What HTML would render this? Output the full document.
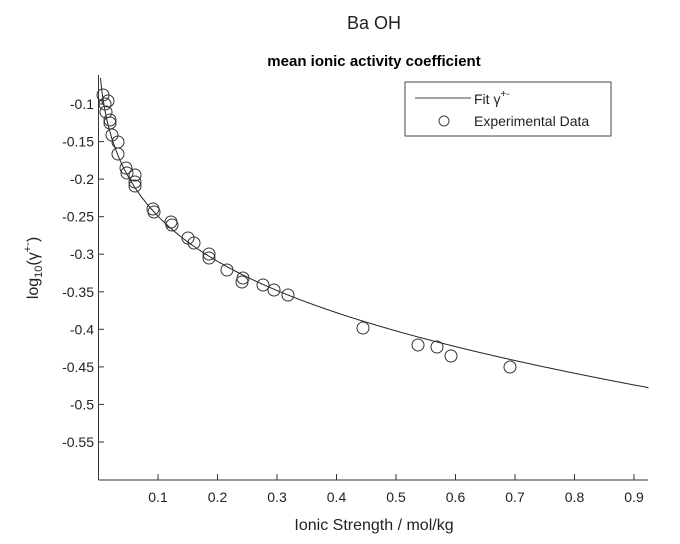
<!DOCTYPE html>
<html><head><style>body{margin:0;background:#fff}svg{display:block}</style></head><body>
<svg width="680" height="544" viewBox="0 0 680 544" xmlns="http://www.w3.org/2000/svg" font-family="Liberation Sans, Arial, sans-serif">
<rect width="680" height="544" fill="#fff"/>
<text x="374" y="29" font-size="18" text-anchor="middle" fill="#222">Ba OH</text>
<text x="374" y="66" font-size="15" font-weight="bold" text-anchor="middle" fill="#000">mean ionic activity coefficient</text>
<g stroke="#333" stroke-width="1" fill="none">
<line x1="98.5" y1="75" x2="98.5" y2="480"/>
<line x1="98.5" y1="480" x2="648" y2="480"/>
</g>
<g stroke="#333">
<line x1="158" y1="480" x2="158" y2="474"/><line x1="217.5" y1="480" x2="217.5" y2="474"/><line x1="277" y1="480" x2="277" y2="474"/><line x1="336.5" y1="480" x2="336.5" y2="474"/><line x1="396" y1="480" x2="396" y2="474"/><line x1="455.5" y1="480" x2="455.5" y2="474"/><line x1="515" y1="480" x2="515" y2="474"/><line x1="574.5" y1="480" x2="574.5" y2="474"/><line x1="634" y1="480" x2="634" y2="474"/>
<line x1="98.5" y1="104" x2="104" y2="104"/><line x1="98.5" y1="141.6" x2="104" y2="141.6"/><line x1="98.5" y1="179.1" x2="104" y2="179.1"/><line x1="98.5" y1="216.7" x2="104" y2="216.7"/><line x1="98.5" y1="254.2" x2="104" y2="254.2"/><line x1="98.5" y1="291.8" x2="104" y2="291.8"/><line x1="98.5" y1="329.3" x2="104" y2="329.3"/><line x1="98.5" y1="366.9" x2="104" y2="366.9"/><line x1="98.5" y1="404.4" x2="104" y2="404.4"/><line x1="98.5" y1="442" x2="104" y2="442"/>
</g>
<g font-size="14" fill="#222" text-anchor="middle">
<text x="158" y="502">0.1</text><text x="217.5" y="502">0.2</text><text x="277" y="502">0.3</text><text x="336.5" y="502">0.4</text><text x="396" y="502">0.5</text><text x="455.5" y="502">0.6</text><text x="515" y="502">0.7</text><text x="574.5" y="502">0.8</text><text x="634" y="502">0.9</text>
</g>
<g font-size="14" fill="#222" text-anchor="end">
<text x="94" y="109">-0.1</text><text x="94" y="146.6">-0.15</text><text x="94" y="184.1">-0.2</text><text x="94" y="221.7">-0.25</text><text x="94" y="259.2">-0.3</text><text x="94" y="296.8">-0.35</text><text x="94" y="334.3">-0.4</text><text x="94" y="371.9">-0.45</text><text x="94" y="409.4">-0.5</text><text x="94" y="447">-0.55</text>
</g>
<text x="374" y="530" font-size="16" text-anchor="middle" fill="#222">Ionic Strength / mol/kg</text>
<text transform="translate(38,268) rotate(-90)" font-size="16" text-anchor="middle" fill="#222">log<tspan font-size="11" dy="4">10</tspan><tspan dy="-4">(γ</tspan><tspan font-size="11" dy="-7">+-</tspan><tspan dy="7">)</tspan></text>
<path id="curve" fill="none" stroke="#222" stroke-width="1"/>
<g fill="none" stroke="#333" stroke-width="1">
<circle cx="103" cy="95" r="6"/><circle cx="108" cy="101" r="6"/><circle cx="105" cy="104" r="6"/><circle cx="106" cy="112" r="6"/><circle cx="110" cy="120" r="6"/><circle cx="110" cy="123" r="6"/><circle cx="112" cy="135" r="6"/><circle cx="118" cy="142" r="6"/><circle cx="118" cy="154" r="6"/><circle cx="126" cy="168" r="6"/><circle cx="127" cy="173" r="6"/><circle cx="135" cy="175" r="6"/><circle cx="135" cy="182" r="6"/><circle cx="135" cy="186" r="6"/><circle cx="153" cy="209" r="6"/><circle cx="154" cy="212" r="6"/><circle cx="171" cy="222" r="6"/><circle cx="172" cy="225" r="6"/><circle cx="188" cy="238" r="6"/><circle cx="194" cy="243" r="6"/><circle cx="209" cy="254" r="6"/><circle cx="209" cy="258" r="6"/><circle cx="227" cy="270" r="6"/><circle cx="243" cy="278" r="6"/><circle cx="242" cy="282" r="6"/><circle cx="263" cy="285" r="6"/><circle cx="274" cy="290" r="6"/><circle cx="288" cy="295" r="6"/><circle cx="363" cy="328" r="6"/><circle cx="418" cy="345" r="6"/><circle cx="437" cy="347" r="6"/><circle cx="451" cy="356" r="6"/><circle cx="510" cy="367" r="6"/>
</g>
<rect x="405" y="82" width="206" height="54" fill="#fff" stroke="#444"/>
<line x1="415" y1="98" x2="471" y2="98" stroke="#444"/>
<text x="474" y="104" font-size="14" fill="#222">Fit γ<tspan font-size="10" dy="-7">+-</tspan></text>
<circle cx="444" cy="121" r="5" fill="none" stroke="#444"/>
<text x="474" y="126" font-size="14" fill="#222">Experimental Data</text>
<script>
var d="";for(var i=0;i<=600;i++){var I=0.0003+i*(0.924/600);var s=Math.sqrt(I);var f=-1.25*s/(1+2*s)-0.072*I;var x=98.5+595*I,y=104+(-0.1-f)*751;if(y<75)continue;d+=(d?"L":"M")+x.toFixed(1)+" "+y.toFixed(1);}
document.getElementById("curve").setAttribute("d",d);
</script>
</svg>
</body></html>
